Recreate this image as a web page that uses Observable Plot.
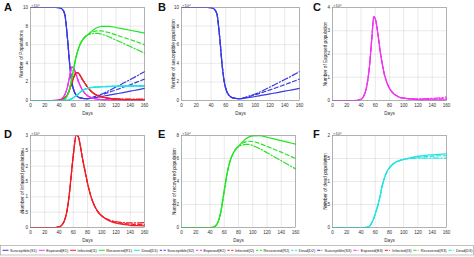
<!DOCTYPE html>
<html>
<head>
<meta charset="utf-8">
<script src="https://cdn.jsdelivr.net/npm/d3@7"></script>
<script src="https://cdn.jsdelivr.net/npm/@observablehq/plot@0.6"></script>
<style>
  body { margin: 0; background: #fff; font-family: Arial, "Liberation Sans", sans-serif; }
  #fig { position: relative; width: 474px; height: 257px; overflow: hidden; background: #fff; }
  .panel { position: absolute; }
  .panel svg { overflow: visible; }
  .tag { position: absolute; font-weight: bold; font-size: 11px; line-height: 1; color: #111; }
  #legend { position: absolute; left: 0; top: 244px; }
</style>
</head>
<body>
<div id="fig"></div>
<script>
// Simulation output sampled on these days (populations in millions)
const days = [0,10,20,30,35,40,44,48,52,55,58,61,64,67,70,73,76,80,85,90,95,100,110,120,130,140,150,160];

const S1 = [10,10,10,10,10,9.97,9.85,9.3,6.6,3.9,2.0,1.05,0.6,0.38,0.28,0.23,0.21,0.2,0.25,0.3,0.36,0.43,0.57,0.71,0.85,1.0,1.15,1.3];
const S2 = [10,10,10,10,10,9.97,9.85,9.3,6.6,3.9,2.0,1.05,0.6,0.38,0.28,0.23,0.21,0.2,0.28,0.38,0.5,0.62,0.88,1.14,1.42,1.7,2.0,2.3];
const S3 = [10,10,10,10,10,9.97,9.85,9.3,6.6,3.9,2.0,1.05,0.6,0.38,0.28,0.23,0.21,0.2,0.3,0.43,0.57,0.7,1.05,1.45,1.85,2.25,2.67,3.1];

const E1 = [0,0,0,0,0.01,0.05,0.2,0.6,1.5,2.6,3.6,3.4,2.8,2.1,1.55,1.1,0.8,0.52,0.32,0.2,0.13,0.1,0.06,0.04,0.03,0.03,0.03,0.03];
const E2 = [0,0,0,0,0.01,0.05,0.2,0.6,1.5,2.6,3.6,3.4,2.8,2.1,1.55,1.1,0.8,0.52,0.32,0.2,0.13,0.1,0.07,0.06,0.06,0.06,0.07,0.09];
const E3 = [0,0,0,0,0.01,0.05,0.2,0.6,1.5,2.6,3.6,3.4,2.8,2.1,1.55,1.1,0.8,0.52,0.32,0.2,0.13,0.1,0.08,0.07,0.08,0.09,0.11,0.15];

const I1 = [0,0,0,0,0,0.02,0.08,0.25,0.65,1.2,1.9,2.55,3.0,2.96,2.65,2.25,1.9,1.45,1.0,0.7,0.5,0.38,0.22,0.14,0.1,0.07,0.06,0.05];
const I2 = [0,0,0,0,0,0.02,0.08,0.25,0.65,1.2,1.9,2.55,3.0,2.96,2.65,2.25,1.9,1.45,1.0,0.7,0.5,0.38,0.24,0.17,0.13,0.11,0.1,0.1];
const I3 = [0,0,0,0,0,0.02,0.08,0.25,0.65,1.2,1.9,2.55,3.0,2.96,2.65,2.25,1.9,1.45,1.0,0.7,0.5,0.38,0.25,0.19,0.16,0.15,0.15,0.16];

const R1 = [0,0,0,0,0,0,0.02,0.15,0.6,1.3,2.4,3.6,4.7,5.5,6.1,6.5,6.8,7.05,7.4,7.7,7.88,7.97,7.98,7.85,7.7,7.55,7.4,7.25];
const R2 = [0,0,0,0,0,0,0.02,0.15,0.6,1.3,2.4,3.6,4.7,5.5,6.1,6.5,6.8,7.05,7.3,7.45,7.5,7.48,7.3,7.05,6.8,6.55,6.28,6.0];
const R3 = [0,0,0,0,0,0,0.02,0.15,0.6,1.3,2.4,3.6,4.7,5.5,6.1,6.5,6.8,7.05,7.15,7.22,7.22,7.12,6.85,6.5,6.15,5.8,5.45,5.1];

const D1 = [0,0,0,0,0,0,0,0.005,0.03,0.1,0.2,0.35,0.5,0.7,0.92,1.08,1.2,1.3,1.38,1.43,1.46,1.48,1.52,1.55,1.57,1.58,1.59,1.6];
const D2 = [0,0,0,0,0,0,0,0.005,0.03,0.1,0.2,0.35,0.5,0.7,0.92,1.08,1.2,1.3,1.38,1.43,1.46,1.48,1.51,1.53,1.54,1.55,1.56,1.56];
const D3 = [0,0,0,0,0,0,0,0.005,0.03,0.1,0.2,0.35,0.5,0.7,0.92,1.08,1.2,1.3,1.38,1.43,1.46,1.48,1.5,1.51,1.51,1.51,1.51,1.51];

const compartments = ["S", "E", "I", "R", "D"];
const compNames = ["Susceptible", "Exposed", "Infected", "Recovered", "Dead"];
const compColors = ["#3a3ae2", "#f035f0", "#f01c26", "#22e622", "#22e4e4"];
const scenarioIds = [1, 2, 3];
const scenarioDash = ["none", "4,2.5", "6,2,1.2,2"];
const legendDash = ["none", "2.2,1.6", "3.2,1.2,0.8,1.2"];
const xTicks = [0, 20, 40, 60, 80, 100, 120, 140, 160];
const expLabel = "×10⁶";

const series = {S: [S1, S2, S3], E: [E1, E2, E3], I: [I1, I2, I3], R: [R1, R2, R3], D: [D1, D2, D3]};

// long-format table for Plot
const rows = [];
compartments.forEach(c => series[c].forEach((vals, k) => vals.forEach((v, i) =>
  rows.push({day: days[i], value: v, comp: c, scen: scenarioIds[k]}))));

const panels = [
  {tag: "A", comps: ["S","E","I","R","D"], ymax: 10, yticks: [0,2,4,6,8,10], label: "Number of Populations",
   left: 0, top: 0, w: 155, h: 118, ml: 30, mr: 11, mt: 7, mb: 18, lo: 9},
  {tag: "B", comps: ["S"], ymax: 10, yticks: [0,2,4,6,8,10], label: "Number of susceptible population",
   left: 155, top: 0, w: 155, h: 118, ml: 26, mr: 11, mt: 7, mb: 18, lo: 7.8},
  {tag: "C", comps: ["E"], ymax: 4, yticks: [0,1,2,3,4], label: "Number of Exposed population",
   left: 310, top: 0, w: 164, h: 118, ml: 22, mr: 28, mt: 7, mb: 18, lo: 7},
  {tag: "D", comps: ["I"], ymax: 3, yticks: [0,0.5,1,1.5,2,2.5,3], label: "Number of Infected population",
   left: 0, top: 120, w: 155, h: 125, ml: 30, mr: 11, mt: 15, mb: 18, lo: 8.5},
  {tag: "E", comps: ["R"], ymax: 8, yticks: [0,2,4,6,8], label: "Number of recovered population",
   left: 155, top: 120, w: 155, h: 125, ml: 26, mr: 15, mt: 15, mb: 18, lo: 7.2},
  {tag: "F", comps: ["D"], ymax: 2, yticks: [0,0.5,1,1.5,2], label: "Number of dead population",
   left: 310, top: 120, w: 164, h: 125, ml: 22, mr: 28, mt: 15, mb: 18, lo: 7}
];

const fig = document.getElementById("fig");
const fontFamily = "Arial, 'Liberation Sans', sans-serif";

for (const p of panels) {
  const marks = [];
  for (const c of p.comps) {
    const ci = compartments.indexOf(c);
    scenarioIds.forEach((s, k) => {
      marks.push(Plot.line(rows.filter(r => r.comp === c && r.scen === s), {
        x: "day", y: "value", stroke: compColors[ci], strokeWidth: 1.2,
        strokeDasharray: scenarioDash[k], curve: "monotone-x"
      }));
    });
  }
  marks.push(Plot.frame({stroke: "#8a8a8a", strokeWidth: 0.6}));
  // exponent above the y axis
  marks.push(Plot.text([expLabel], {text: d => d, frameAnchor: "top-left", dy: -3.5, dx: 0.5,
    textAnchor: "start", fontSize: 4.2, fill: "#444"}));
  // rotated y-axis title
  marks.push(Plot.text([p.label], {text: d => d, frameAnchor: "left", rotate: -90, dx: -p.lo,
    textAnchor: "middle", fontSize: 4.7, fill: "#222"}));

  const chart = Plot.plot({
    width: p.w, height: p.h,
    marginLeft: p.ml, marginRight: p.mr, marginTop: p.mt, marginBottom: p.mb,
    x: {domain: [0, 160], ticks: xTicks, tickFormat: d => String(d), label: "Days", labelAnchor: "center",
        labelOffset: 14, labelArrow: "none", tickSize: 0, tickPadding: 3, grid: true},
    y: {domain: [0, p.ymax], ticks: p.yticks, tickFormat: d => String(d), label: null,
        tickSize: 0, tickPadding: 2.5, grid: true},
    style: {fontSize: "4.6px", fontFamily, color: "#333", background: "transparent"},
    marks
  });
  const holder = document.createElement("div");
  holder.className = "panel";
  holder.style.left = p.left + "px";
  holder.style.top = p.top + "px";
  holder.appendChild(chart);
  fig.appendChild(holder);

  const tag = document.createElement("div");
  tag.className = "tag";
  tag.textContent = p.tag;
  tag.style.left = (p.left + (p.left === 0 ? 4 : 3)) + "px";
  tag.style.top = (p.top + (p.top === 0 ? 2 : 9)) + "px";
  fig.appendChild(tag);
}

// Shared legend strip across the bottom
const legendW = 474, legendH = 12;
const legend = d3.select(fig).append("svg")
  .attr("id", "legend").attr("width", legendW).attr("height", legendH);
legend.append("rect").attr("x", 0.5).attr("y", 1.5).attr("width", legendW - 1).attr("height", 9.5)
  .attr("fill", "#fff").attr("stroke", "#9a9a9a").attr("stroke-width", 0.6);

const entries = [];
scenarioIds.forEach((s, k) => compartments.forEach((c, ci) => {
  entries.push({text: `${compNames[ci]}(${c}${s})`, color: compColors[ci], dash: legendDash[k]});
}));

const groups = legend.selectAll("g.entry").data(entries).join("g").attr("class", "entry");
groups.append("line").attr("x1", 0).attr("x2", 6).attr("y1", 6.3).attr("y2", 6.3)
  .attr("stroke", d => d.color).attr("stroke-width", 1).attr("stroke-dasharray", d => d.dash);
groups.append("text").attr("x", 7.5).attr("y", 6.3).attr("dy", "0.35em")
  .attr("font-size", 3.8).attr("font-family", fontFamily).attr("fill", "#222")
  .text(d => d.text);

// space entries evenly across the strip
const widths = groups.nodes().map(g => g.querySelector("text").getComputedTextLength() + 7.5);
const used = d3.sum(widths);
const gap = (legendW - 4 - used) / (entries.length - 1);
let cursor = 2.5;
groups.each(function(d, i) {
  d3.select(this).attr("transform", `translate(${cursor},0)`);
  cursor += widths[i] + gap;
});
</script>
</body>
</html>
